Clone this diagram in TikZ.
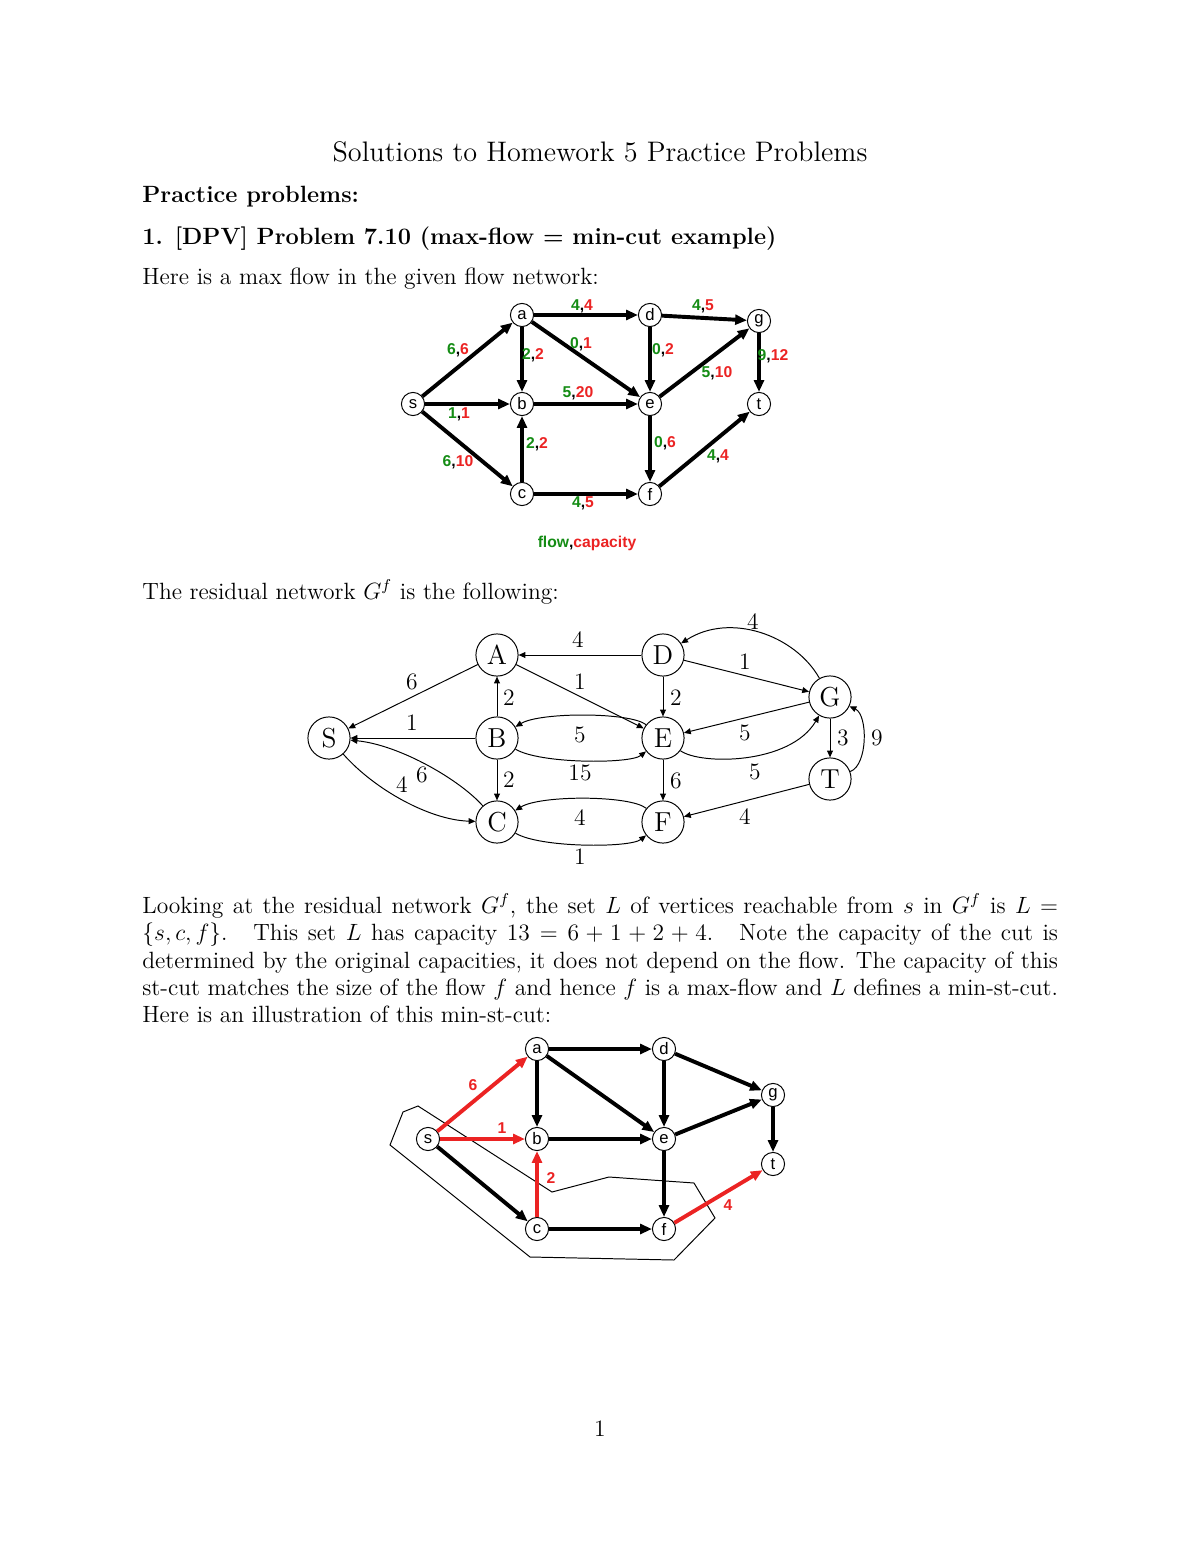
\documentclass[tikz,border=0pt]{standalone}
\usepackage{fontspec}
\newfontfamily\hvfont{Liberation Sans}
\usetikzlibrary{arrows.meta}
\definecolor{flowgreen}{RGB}{20,140,20}
\definecolor{capred}{RGB}{235,35,35}
\newcommand\fcl[2]{\textcolor{flowgreen}{#1},\textcolor{capred}{#2}}
\newcommand\headtwo{\bfseries 1. [DPV] Problem 7.10 (max-flow = min-cut example)}
\begin{document}
\begin{tikzpicture}[x=0.51pt,y=-0.51pt,
  sv/.style={circle,draw,line width=0.5pt,minimum size=11.8pt,inner sep=0pt,font=\hvfont\fontsize{8.5}{9}\selectfont},
  fat/.style={line width=2pt,-{Triangle[length=6pt,width=5pt]}},
  fatred/.style={fat,draw=capred},
  lbl/.style={font=\hvfont\bfseries\fontsize{8}{9}\selectfont,inner sep=0pt},
  rv/.style={circle,draw,line width=0.5pt,minimum size=21.5pt,inner sep=0pt,font=\fontsize{14}{16}\selectfont},
  rarr/.style={line width=0.5pt,-{Triangle[length=3.5pt,width=3pt]}},
  rl/.style={font=\fontsize{12}{14}\selectfont,inner sep=0pt},
  txt/.style={anchor=base west,inner sep=0pt,font=\fontsize{12}{14}\selectfont}]
\useasboundingbox (0,0) rectangle (1200,1553);

% ---------- text ----------
\node[txt,anchor=base] (title) at (600,162) {\fontsize{14.4}{17}\selectfont Solutions to Homework 5 Practice Problems};
\node[txt] (h1) at (142,203) {\bfseries Practice problems:};
\node[txt] (h2) at (142,245) {\headtwo};
\node[txt] (p1) at (142,284) {Here is a max flow in the given flow network:};
\node[txt] (p2) at (142,599) {The residual network $G^f$ is the following:};
\node[txt] (q1) at (142,913) {\makebox[467pt][s]{Looking at the residual network $G^f$, the set $L$ of vertices reachable from $s$ in $G^f$ is $L=$}};
\node[txt] (q2) at (142,940) {\makebox[467pt][s]{$\{s,c,f\}$. \ This set $L$ has capacity $13 = 6+1+2+4$. \ Note the capacity of the cut is}};
\node[txt] (q3) at (142,968) {\makebox[467pt][s]{determined by the original capacities, it does not depend on the flow. The capacity of this}};
\node[txt] (q4) at (142,995) {\makebox[467pt][s]{st-cut matches the size of the flow $f$ and hence $f$ is a max-flow and $L$ defines a min-st-cut.}};
\node[txt] (q5) at (142,1022) {Here is an illustration of this min-st-cut:};
\node[txt,anchor=base] (pg) at (600,1436) {1};

% ---------- graph 1: flow ----------
\node[sv] (s1) at (413,404) {s};
\node[sv] (a1) at (522,315) {a};
\node[sv] (b1) at (522,404) {b};
\node[sv] (c1) at (522,494) {c};
\node[sv] (d1) at (650,315) {d};
\node[sv] (e1) at (650,404) {e};
\node[sv] (f1) at (650,494) {f};
\node[sv] (g1) at (759,321) {g};
\node[sv] (t1) at (759,404) {t};
\draw[fat] (s1) -- (a1);
\draw[fat] (s1) -- (b1);
\draw[fat] (s1) -- (c1);
\draw[fat] (a1) -- (d1);
\draw[fat] (a1) -- (b1);
\draw[fat] (a1) -- (e1);
\draw[fat] (d1) -- (g1);
\draw[fat] (d1) -- (e1);
\draw[fat] (b1) -- (e1);
\draw[fat] (c1) -- (b1);
\draw[fat] (e1) -- (g1);
\draw[fat] (g1) -- (t1);
\draw[fat] (e1) -- (f1);
\draw[fat] (c1) -- (f1);
\draw[fat] (f1) -- (t1);
\node[lbl] (l1) at (582,306) {\fcl{4}{4}};
\node[lbl] (l2) at (703,306) {\fcl{4}{5}};
\node[lbl] (l3) at (458,350) {\fcl{6}{6}};
\node[lbl] (l4) at (533,355) {\fcl{2}{2}};
\node[lbl] (l5) at (581,344) {\fcl{0}{1}};
\node[lbl] (l6) at (663,350) {\fcl{0}{2}};
\node[lbl] (l7) at (773,356) {\fcl{9}{12}};
\node[lbl] (l8) at (717,373) {\fcl{5}{10}};
\node[lbl] (l9) at (578,393) {\fcl{5}{20}};
\node[lbl] (l10) at (459,414) {\fcl{1}{1}};
\node[lbl] (l11) at (537,444) {\fcl{2}{2}};
\node[lbl] (l12) at (665,443) {\fcl{0}{6}};
\node[lbl] (l13) at (458,462) {\fcl{6}{10}};
\node[lbl] (l14) at (718,456) {\fcl{4}{4}};
\node[lbl] (l15) at (583,503) {\fcl{4}{5}};
\node[lbl] (leg) at (587,543) {\fcl{flow}{capacity}};

% ---------- graph 2: residual ----------
\node[rv] (S) at (329,738) {S};
\node[rv] (A) at (497,655) {A};
\node[rv] (B) at (497,738) {B};
\node[rv] (C) at (497,822) {C};
\node[rv] (D) at (663,655) {D};
\node[rv] (E) at (663,738) {E};
\node[rv] (F) at (663,822) {F};
\node[rv] (G) at (830,697) {G};
\node[rv] (T) at (830,779) {T};
\draw[rarr] (D) -- (A);
\draw[rarr] (A) -- (S);
\draw[rarr] (A) -- (E);
\draw[rarr] (B) -- (A);
\draw[rarr] (B) -- (S);
\draw[rarr] (B) -- (C);
\draw[rarr] (D) -- (E);
\draw[rarr] (D) -- (G);
\draw[rarr] (G) -- (E);
\draw[rarr] (G) -- (T);
\draw[rarr] (E) -- (F);
\draw[rarr] (T) -- (F);
\draw[rarr] (E) .. controls (630,712) and (540,712) .. (B);
\draw[rarr] (B) .. controls (540,764) and (630,764) .. (E);
\draw[rarr] (F) .. controls (630,795) and (540,795) .. (C);
\draw[rarr] (C) .. controls (540,848) and (630,848) .. (F);
\draw[rarr] (G) .. controls (795,635) and (730,612) .. (D);
\draw[rarr] (E) .. controls (700,765) and (790,765) .. (G);
\draw[rarr] (T) .. controls (868,765) and (868,715) .. (G);
\draw[rarr] (S) .. controls (375,790) and (430,820) .. (C);
\draw[rarr] (C) .. controls (460,780) and (400,745) .. (S);
\node[rl] (r1) at (578,640) {4};
\node[rl] (r2) at (412,682) {6};
\node[rl] (r3) at (580,682) {1};
\node[rl] (r4) at (509,698) {2};
\node[rl] (r5) at (412,723) {1};
\node[rl] (r6) at (580,735) {5};
\node[rl] (r7) at (580,773) {15};
\node[rl] (r8) at (509,780) {2};
\node[rl] (r9) at (402,785) {4};
\node[rl] (r10) at (422,775) {6};
\node[rl] (r11) at (580,818) {4};
\node[rl] (r12) at (580,857) {1};
\node[rl] (r13) at (753,622) {4};
\node[rl] (r14) at (745,662) {1};
\node[rl] (r15) at (676,698) {2};
\node[rl] (r16) at (745,733) {5};
\node[rl] (r17) at (755,772) {5};
\node[rl] (r18) at (843,738) {3};
\node[rl] (r19) at (877,738) {9};
\node[rl] (r20) at (676,781) {6};
\node[rl] (r21) at (745,817) {4};

% ---------- graph 3: min cut ----------
\draw[line width=0.5pt] (390,1145) -- (403,1112) -- (418,1106) -- (552,1192) -- (609,1177) -- (694,1183) -- (715,1218) -- (674,1260) -- (530,1257) -- cycle;
\node[sv,fill=white] (s3) at (428,1139) {s};
\node[sv] (a3) at (537,1049) {a};
\node[sv] (b3) at (537,1139) {b};
\node[sv] (c3) at (537,1229) {c};
\node[sv] (d3) at (664,1049) {d};
\node[sv] (e3) at (664,1139) {e};
\node[sv] (f3) at (664,1229) {f};
\node[sv] (g3) at (773,1095) {g};
\node[sv] (t3) at (773,1164) {t};
\draw[fat] (a3) -- (d3);
\draw[fat] (a3) -- (b3);
\draw[fat] (a3) -- (e3);
\draw[fat] (d3) -- (g3);
\draw[fat] (d3) -- (e3);
\draw[fat] (b3) -- (e3);
\draw[fat] (e3) -- (g3);
\draw[fat] (g3) -- (t3);
\draw[fat] (s3) -- (c3);
\draw[fat] (e3) -- (f3);
\draw[fat] (c3) -- (f3);
\draw[fatred] (s3) -- (a3);
\draw[fatred] (s3) -- (b3);
\draw[fatred] (c3) -- (b3);
\draw[fatred] (f3) -- (t3);
\node[lbl,text=capred] (m1) at (473,1085) {6};
\node[lbl,text=capred] (m2) at (502,1128) {1};
\node[lbl,text=capred] (m3) at (551,1178) {2};
\node[lbl,text=capred] (m4) at (728,1205) {4};
\end{tikzpicture}
\end{document}
